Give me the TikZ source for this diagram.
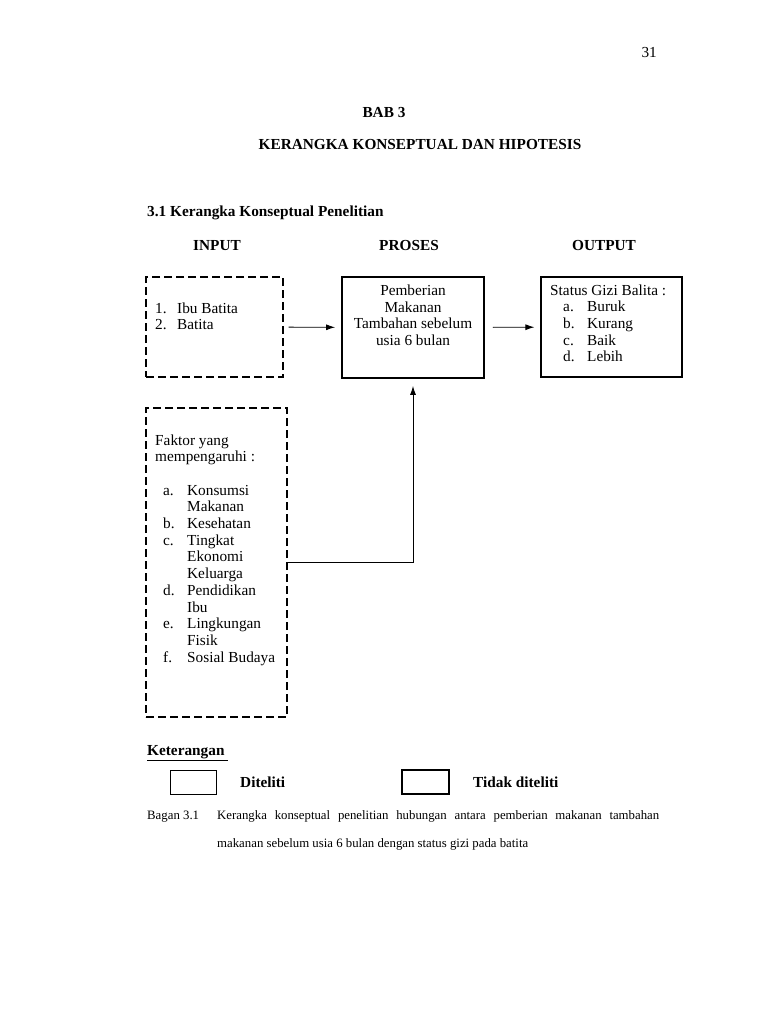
\documentclass[tikz,border=0pt]{standalone}
\usepackage{fontspec}
\setmainfont{Liberation Serif}
\usepackage{tikz}
\usetikzlibrary{positioning}
\usetikzlibrary{arrows,arrows.meta}

\newcommand{\bodyfont}{\fontsize{15.3}{16.7}\selectfont}
\newcommand{\capfont}{\fontsize{12.8}{15}\selectfont}

\begin{document}
\begin{tikzpicture}[x=1pt, y=-1pt,
    box/.style={draw, rectangle, inner sep=0pt},
    dashbox/.style={box, line width=1.4pt, dash pattern=on 8pt off 4pt},
    txt/.style={inner sep=0pt, anchor=base west, font=\bodyfont},
    head/.style={inner sep=0pt, anchor=base, font=\bodyfont\bfseries},
    link/.style={-{Latex[length=9pt, width=6pt]}, line width=0.9pt, shorten <=5pt, shorten >=6pt}]
    \fill[white] (0,0) rectangle (768,1024);
    \useasboundingbox (0,0) rectangle (768,1024);

    % Headings
    \node[inner sep=0pt, anchor=base east, font=\bodyfont] (PG) at (657, 58) {31};
    \node[head] (BAB) at (384, 118) {BAB 3};
    \node[head] (JDL) at (420, 150) {KERANGKA KONSEPTUAL DAN HIPOTESIS};
    \node[head, anchor=base west] (SUB) at (147, 217) {3.1 Kerangka Konseptual Penelitian};
    \node[head] (HI) at (217, 251) {INPUT};
    \node[head] (HP) at (409, 251) {PROSES};
    \node[head] (HO) at (604, 251) {OUTPUT};

    % Nodes
    \node[dashbox, minimum width=137, minimum height=100] (IN) at (214.5, 327) {};
    \node[box, line width=1.8pt, minimum width=142, minimum height=101] (PR) at (413, 327.5) {};
    \node[box, line width=1.1pt, minimum width=141, minimum height=100] (OUT) at (611.5, 327) {};
    \node[dashbox, minimum width=141, minimum height=309] (FK) at (216.5, 562.5) {};

    % Texts
    \node[txt] (TIN) at (155, 313) {\begin{tabular}[t]{@{}p{22pt}@{}l@{}}
        1. & Ibu Batita\\
        2. & Batita
    \end{tabular}};
    \node[txt, anchor=north, align=center] (TPR) at (413, 284.5) {Pemberian\\ Makanan\\ Tambahan sebelum\\ usia 6 bulan};
    \node[txt] (TOUT) at (550, 295) {\begin{tabular}[t]{@{}p{13pt}@{}p{24pt}@{}l@{}}
        \multicolumn{3}{@{}l@{}}{Status Gizi Balita :}\\
        & a. & Buruk\\
        & b. & Kurang\\
        & c. & Baik\\
        & d. & Lebih
    \end{tabular}};
    \node[txt] (TFK) at (155, 445) {\begin{tabular}[t]{@{}p{8pt}@{}p{24pt}@{}l@{}}
        \multicolumn{3}{@{}l@{}}{Faktor yang}\\
        \multicolumn{3}{@{}l@{}}{mempengaruhi :}\\
        \\
        & a. & Konsumsi\\
        & & Makanan\\
        & b. & Kesehatan\\
        & c. & Tingkat\\
        & & Ekonomi\\
        & & Keluarga\\
        & d. & Pendidikan\\
        & & Ibu\\
        & e. & Lingkungan\\
        & & Fisik\\
        & f. & Sosial Budaya
    \end{tabular}};

    % Edges
    \draw[link] (IN) -- (PR);
    \draw[link, shorten <=8pt] (PR) -- (OUT);
    \draw[link, shorten <=0pt, shorten >=7pt] (FK.east) -| (PR.south);

    % Legend
    \node[head, anchor=base west] (KET) at (147, 755) {\underline{Keterangan\ }};
    \node[box, line width=1pt, minimum width=46, minimum height=24] (L1) at (193, 782) {};
    \node[head, anchor=base west] (D1) at (240, 787) {Diteliti};
    \node[box, line width=1.8pt, minimum width=47, minimum height=24] (L2) at (425.5, 782) {};
    \node[head, anchor=base west] (D2) at (473, 787) {Tidak diteliti};

    % Caption
    \node[inner sep=0pt, anchor=base west, font=\capfont] (CB) at (147, 819) {Bagan 3.1};
    \node[inner sep=0pt, anchor=base west, font=\capfont] (C1) at (217, 819)
        {\makebox[442pt][s]{Kerangka konseptual penelitian hubungan antara pemberian makanan tambahan}};
    \node[inner sep=0pt, anchor=base west, font=\capfont] (C2) at (217, 847)
        {makanan sebelum usia 6 bulan dengan status gizi pada batita};
\end{tikzpicture}
\end{document}
